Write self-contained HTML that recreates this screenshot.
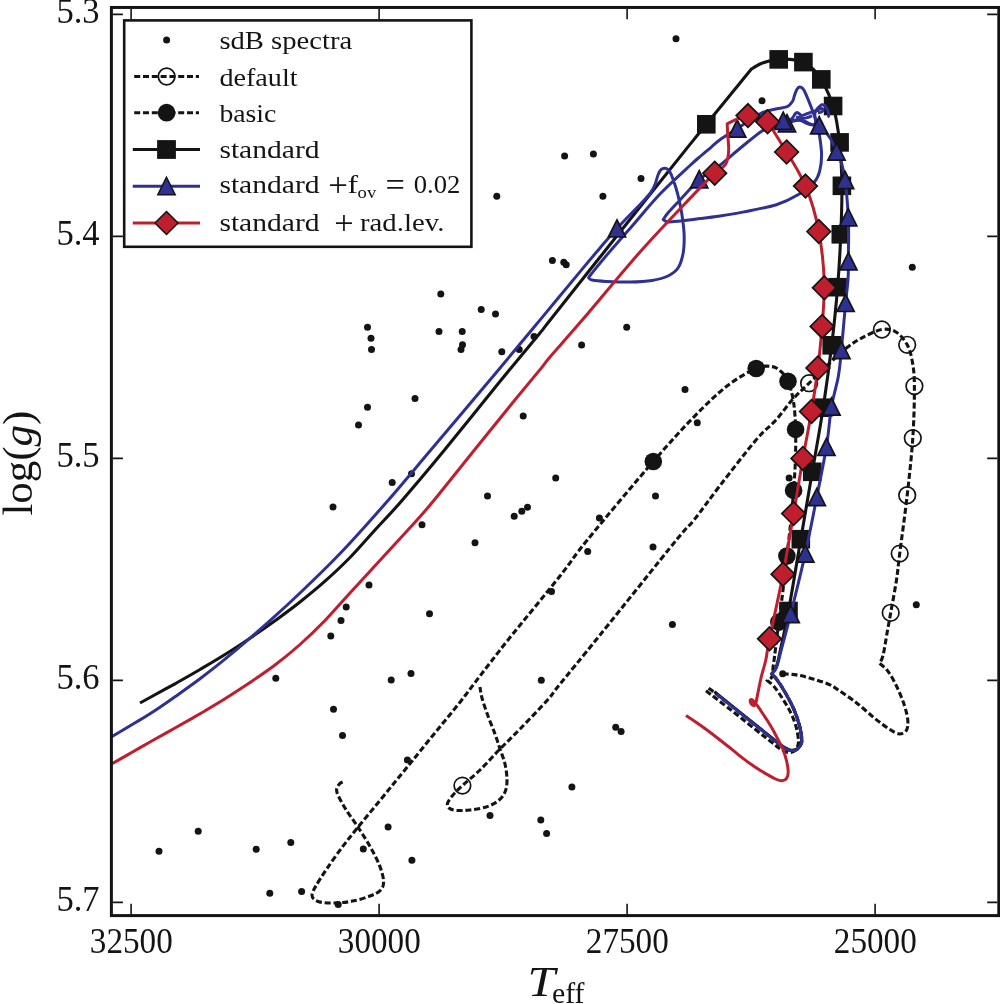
<!DOCTYPE html>
<html lang="en"><head><meta charset="utf-8"><title>sdB evolutionary tracks</title>
<style>html,body{margin:0;padding:0;background:#fff}body{width:1000px;height:1004px;overflow:hidden}svg{display:block}text{font-family:"Liberation Serif",serif;fill:#141414}</style></head><body>
<svg width="1000" height="1004" viewBox="0 0 1000 1004">
<rect width="1000" height="1004" fill="#fff"/>
<defs><clipPath id="ax"><rect x="112" y="7.5" width="887" height="908"/></clipPath></defs>
<g clip-path="url(#ax)">
<g fill="#141414">
<circle cx="676" cy="38.8" r="3.5"/>
<circle cx="564.6" cy="156.1" r="3.5"/>
<circle cx="593.4" cy="153.9" r="3.5"/>
<circle cx="641" cy="178.5" r="3.5"/>
<circle cx="602.9" cy="196.2" r="3.5"/>
<circle cx="496.8" cy="196.2" r="3.5"/>
<circle cx="762" cy="100.7" r="3.5"/>
<circle cx="912.3" cy="267.3" r="3.5"/>
<circle cx="552.4" cy="260.4" r="3.5"/>
<circle cx="563.8" cy="262.2" r="3.5"/>
<circle cx="566.2" cy="264.8" r="3.5"/>
<circle cx="440.8" cy="294" r="3.5"/>
<circle cx="481.2" cy="309.5" r="3.5"/>
<circle cx="495.5" cy="314" r="3.5"/>
<circle cx="367.5" cy="327.2" r="3.5"/>
<circle cx="371" cy="338.2" r="3.5"/>
<circle cx="371.5" cy="349.5" r="3.5"/>
<circle cx="439" cy="331.5" r="3.5"/>
<circle cx="462.2" cy="331.5" r="3.5"/>
<circle cx="462.5" cy="344.8" r="3.5"/>
<circle cx="461" cy="349.5" r="3.5"/>
<circle cx="501.8" cy="351.8" r="3.5"/>
<circle cx="519.2" cy="349.5" r="3.5"/>
<circle cx="534" cy="336.5" r="3.5"/>
<circle cx="415" cy="398.5" r="3.5"/>
<circle cx="367.5" cy="407.2" r="3.5"/>
<circle cx="358.5" cy="425" r="3.5"/>
<circle cx="523.2" cy="416" r="3.5"/>
<circle cx="411.5" cy="473.8" r="3.5"/>
<circle cx="392.2" cy="482.5" r="3.5"/>
<circle cx="487.5" cy="495.9" r="3.5"/>
<circle cx="626.7" cy="327.3" r="3.5"/>
<circle cx="581.6" cy="344.9" r="3.5"/>
<circle cx="685" cy="389.5" r="3.5"/>
<circle cx="697.3" cy="422.7" r="3.5"/>
<circle cx="555.7" cy="478.1" r="3.5"/>
<circle cx="655.5" cy="496" r="3.5"/>
<circle cx="599.4" cy="518" r="3.5"/>
<circle cx="333" cy="507" r="3.5"/>
<circle cx="346.2" cy="607" r="3.5"/>
<circle cx="341" cy="620.5" r="3.5"/>
<circle cx="330.8" cy="636" r="3.5"/>
<circle cx="275.8" cy="678.2" r="3.5"/>
<circle cx="333.5" cy="709.2" r="3.5"/>
<circle cx="342.5" cy="735.6" r="3.5"/>
<circle cx="422" cy="524.8" r="3.5"/>
<circle cx="369" cy="585" r="3.5"/>
<circle cx="429.5" cy="613.8" r="3.5"/>
<circle cx="391.2" cy="680" r="3.5"/>
<circle cx="411" cy="673.4" r="3.5"/>
<circle cx="475" cy="542.8" r="3.5"/>
<circle cx="514.2" cy="516.2" r="3.5"/>
<circle cx="521.8" cy="511.2" r="3.5"/>
<circle cx="527.5" cy="507.2" r="3.5"/>
<circle cx="587.7" cy="551.4" r="3.5"/>
<circle cx="551.5" cy="591.5" r="3.5"/>
<circle cx="541.3" cy="680.2" r="3.5"/>
<circle cx="653" cy="547" r="3.5"/>
<circle cx="672.4" cy="624.6" r="3.5"/>
<circle cx="916.3" cy="604.8" r="3.5"/>
<circle cx="159" cy="851.2" r="3.5"/>
<circle cx="198.2" cy="831.2" r="3.5"/>
<circle cx="256.2" cy="849.2" r="3.5"/>
<circle cx="290.8" cy="842.4" r="3.5"/>
<circle cx="269.8" cy="893.2" r="3.5"/>
<circle cx="301.6" cy="891.4" r="3.5"/>
<circle cx="338.2" cy="904.5" r="3.5"/>
<circle cx="363.3" cy="849.1" r="3.5"/>
<circle cx="388.1" cy="826.9" r="3.5"/>
<circle cx="411.9" cy="860.3" r="3.5"/>
<circle cx="407.4" cy="759.9" r="3.5"/>
<circle cx="571.9" cy="786.9" r="3.5"/>
<circle cx="490" cy="815.6" r="3.5"/>
<circle cx="540.8" cy="820" r="3.5"/>
<circle cx="546.6" cy="833.4" r="3.5"/>
<circle cx="615.7" cy="727.2" r="3.5"/>
<circle cx="621.1" cy="731.5" r="3.5"/>
<circle cx="782.7" cy="673.7" r="3.5"/>
<circle cx="789.1" cy="477.9" r="3.5"/>
</g>
<g fill="none" stroke="#141414" stroke-width="3.1" stroke-dasharray="6 2.8">
<path d="M708.6 688.2C709.9 689.2 710.9 689.7 716.6 694.2C722.3 698.7 734.6 708.5 743 715.2C751.4 721.9 760.6 729.3 767 734.4C773.4 739.5 777.4 743.1 781.4 745.8C785.4 748.5 788.4 750 791 750.6C793.6 751.2 795.3 750.5 797 749.4C798.7 748.3 800.4 745.9 801.2 744C802 742.1 802.1 741.2 801.8 738C801.5 734.8 800.8 729.8 799.4 724.8C798 719.8 796 713.8 793.4 708C790.8 702.2 786.6 694.8 783.8 690C781 685.2 778.6 681.9 776.6 679.2C774.6 676.5 772.6 674.7 771.8 673.8"/>
<path d="M782.7 673.7C785.2 674 792.8 674.3 798 675.2C803.2 676.1 808.7 677.6 814 679.2C819.3 680.8 826 683 830 684.8C834 686.6 833.7 686.9 838 689.8C842.3 692.7 850 697.8 856 702.4C862 707 868.6 713.4 874 717.7C879.4 722.1 884.2 725.8 888.4 728.5C892.6 731.2 896.2 733.6 899.2 733.9C902.2 734.2 905 732.5 906.4 730.3C907.8 728 908.1 724.4 907.8 720.4C907.5 716.4 906.3 711.4 904.6 706C902.9 700.6 900.1 693.7 897.4 688C894.7 682.3 891.4 675.9 888.4 671.8C885.4 667.7 880.9 664.6 879.4 663.2L879.4 663.2C880 661.9 881.6 661.1 883 655.6C884.4 650.1 886.2 637.5 887.5 630.4C888.8 623.3 889.2 621.2 890.7 612.8C892.2 604.4 895 589.9 896.5 580C898 570.1 897.9 567.7 899.7 553.6C901.5 539.5 905 514.5 907.2 495.2C909.4 475.9 911.6 456.2 912.8 438C914 419.8 914.5 398.8 914.4 386.1C914.3 373.4 913.6 368.9 912.4 362C911.2 355.1 909.9 349.8 907.2 344.8C904.5 339.8 900.2 334.6 896 332C891.8 329.4 887.5 328.6 881.9 329.5C876.3 330.4 868.3 334.5 862.4 337.6C856.5 340.7 851.9 343.7 846.4 348C840.9 352.3 835.8 357.3 829.6 363.2C823.4 369.1 815.2 377.2 809.1 383.2C803 389.2 798.3 393.1 792.8 399.2C787.3 405.3 782.1 413.2 776 420C769.9 426.8 765.3 429.1 756 440C746.7 450.9 730.3 472.3 720 485.6C709.7 498.9 701.3 510.9 694 520C686.7 529.1 692.1 520.8 676.4 540C660.7 559.2 619.4 611 600 635C580.6 659 568.8 673.2 560 684C551.2 694.8 554.2 692.5 547.5 700C540.8 707.5 527.9 720.8 520 729C512.1 737.2 506.7 742.2 500 749C493.3 755.8 486.3 763.9 480 770C473.7 776.1 466.9 781.4 462.4 785.6C457.9 789.8 455.5 792.1 453 795C450.5 797.9 448.3 800.8 447.6 803C446.9 805.2 447.6 806.8 449 808C450.4 809.2 452.5 810.1 456 810.4C459.5 810.7 465 810.6 470 810C475 809.4 481.3 808.5 486 807C490.7 805.5 494.8 803.5 498 801C501.2 798.5 503.5 795.5 505 792C506.5 788.5 507 784.7 507 780C507 775.3 506.2 769.2 505 764C503.8 758.8 501.7 754 500 749C498.3 744 497 739.5 495 734C493 728.5 490.2 722 488 716C485.8 710 483.3 702.8 482 698C480.7 693.2 480.3 688.8 480 687"/>
</g>
<g fill="none" stroke="#141414" stroke-width="1.7">
<circle cx="462.4" cy="785.6" r="8.3"/>
<circle cx="809.1" cy="383.2" r="8.3"/>
<circle cx="881.9" cy="329.5" r="8.3"/>
<circle cx="907.2" cy="344.8" r="8.3"/>
<circle cx="914.4" cy="386.1" r="8.3"/>
<circle cx="912.8" cy="438.1" r="8.3"/>
<circle cx="907.2" cy="495.2" r="8.3"/>
<circle cx="899.7" cy="553.6" r="8.3"/>
<circle cx="890.7" cy="612.8" r="8.3"/>
</g>
<g fill="none" stroke="#141414" stroke-width="3.1" stroke-dasharray="6 2.8">
<path d="M706 690.8C710.3 694.1 723.5 704.1 731.8 710.6C740.1 717.1 749.3 724.6 755.8 729.8C762.3 735 766.8 738.5 770.8 741.6C774.8 744.7 777.3 746.8 779.6 748.4C781.9 750 783.1 750.7 784.6 751.4C786.1 752.1 787.3 752.6 788.8 752.6C790.3 752.6 792.1 752.3 793.4 751.6C794.7 750.9 795.8 750.1 796.6 748.4C797.5 746.7 798.6 745.1 798.5 741.6C798.4 738.1 797.5 732 796.2 727.2C794.9 722.4 793.1 717.6 790.8 712.8C788.5 708 785.2 702.8 782.4 698.4C779.6 694 776.5 689.4 774 686.4C771.5 683.4 768.5 681.6 767.4 680.6L767.4 680.6C768.1 680 770.8 679.2 771.8 676.8C772.8 674.4 772.7 669.5 773.2 666C773.7 662.5 773.7 663.3 774.6 656C775.5 648.7 777.5 632.6 778.8 622.1C780.1 611.6 781.2 604.3 782.6 593.3C784 582.3 785.5 568.2 786.9 556C788.3 543.8 789.9 530.9 791 520C792.1 509.1 792.9 500.4 793.6 490.4C794.3 480.4 795.1 470.2 795.4 460C795.7 449.8 795.9 439.1 795.6 429.4C795.3 419.7 794.8 409.6 793.5 401.6C792.2 393.6 790.1 386.3 788 381.3C785.9 376.3 783.7 373.9 781 371.5C778.3 369.1 776.1 367.1 772 366.6C767.9 366.1 763.7 365.3 756.2 368.5C748.7 371.7 737.4 377.9 727 386C716.6 394.1 706.3 404.2 694 416.8C681.7 429.4 671.1 441 653.3 461.5C635.5 482 602.8 520.9 587.3 540C571.8 559.1 573.2 559.3 560 576C546.8 592.7 521.3 623.3 508 640C494.7 656.7 488 665.6 480 676C472 686.4 466.7 693.8 460 702.2C453.3 710.7 446.7 718.5 440 726.7C433.3 734.9 425.1 745 420 751.3C414.9 757.6 413.5 759.3 409.2 764.6C404.9 769.9 399.5 776.5 394 783.2C388.5 789.9 382.4 797.5 376.4 804.8C370.4 812.1 363.6 820.3 358 827.2C352.4 834.1 348 839.5 342.8 846.4C337.6 853.3 331.3 862.1 326.8 868.8C322.3 875.5 318.1 882.1 315.6 886.4C313.2 890.7 312.4 892.3 312.1 894.4C311.8 896.5 312.4 897.9 314 899.2C315.6 900.5 318 901.8 322 902.4C326 903 332.7 903.2 338 902.9C343.3 902.6 348.7 901.9 354 900.8C359.3 899.6 365.6 897.7 370 896C374.4 894.3 378.1 892.8 380.4 890.4C382.7 888 383.7 885.7 383.6 881.6C383.5 877.5 381.9 871.5 379.6 865.6C377.3 859.7 373.6 852.8 370 846.4C366.4 840 362 833.3 358 827.2C354 821.1 349.3 814.9 346 809.6C342.7 804.3 339.6 798.7 338 795.2C336.4 791.7 336.4 790.7 336.7 788.8C337 786.9 338.5 784.9 339.6 783.7C340.8 782.5 342.9 782 343.6 781.6"/>
</g>
<g fill="#141414">
<circle cx="778.8" cy="622.1" r="8.8"/>
<circle cx="786.9" cy="556" r="8.8"/>
<circle cx="793.6" cy="490.4" r="8.8"/>
<circle cx="795.6" cy="429.4" r="8.8"/>
<circle cx="788" cy="381.3" r="8.8"/>
<circle cx="756.2" cy="368.5" r="8.8"/>
<circle cx="653.3" cy="461.5" r="8.8"/>
</g>
<g fill="none" stroke="#141414" stroke-width="3.1" stroke-linejoin="round">
<path d="M714.4 691.6C719 695.3 733.4 707.1 742 714C750.6 720.9 759.6 728.1 766 733.2C772.4 738.3 777.2 742.3 780.6 744.8C784 747.3 784.5 747.5 786.2 748.4C787.9 749.3 789.2 750.1 791 750.2C792.8 750.3 795.3 750.2 797 749.2C798.7 748.2 800.2 745.9 801 744C801.8 742.1 801.9 741.2 801.6 738C801.3 734.8 800.6 729.8 799.2 724.8C797.8 719.8 795.8 713.8 793.2 708C790.6 702.2 786.4 694.8 783.6 690C780.8 685.2 778.4 681.9 776.4 679.2C774.4 676.5 772.4 674.7 771.6 673.8L771.6 673.8C772.4 672.7 774.7 671.2 776.2 667.2C777.7 663.2 778.4 659.4 780.4 650C782.4 640.6 785.1 629.5 788.5 611C791.9 592.5 796.8 562.4 800.8 539.2C804.8 516 808.6 493.7 812.3 471.8C816 449.9 820 428.8 823.2 407.7C826.4 386.6 829.3 365.4 831.7 345.3C834.1 325.2 836.1 305.7 837.6 287.2C839.1 268.7 840.1 251.2 840.8 234.3C841.5 217.4 842.1 201.1 841.9 185.8C841.7 170.5 841.1 155.7 839.6 142.4C838.1 129.1 836.2 116.5 833.1 106C830 95.5 824.8 85.7 821.3 79.4C817.8 73.1 815 70.9 812 68C809 65.1 807.1 63.5 803.4 62.1C799.7 60.7 794.1 59.9 790 59.4C785.9 58.9 782.2 59.1 778.7 59.4C775.2 59.6 772.3 60.1 769.2 60.9C766.1 61.7 763 62.6 760 64C757 65.4 752.7 68.3 751.2 69.2L751.2 69.2C743.7 78.4 716.5 111.8 706.3 124.3C696.1 136.8 704.4 126.5 690 144.4C675.6 162.3 643.2 202.9 620 232C596.8 261.1 564.3 302.2 551 319C537.7 335.8 548.7 322.3 540 333C531.3 343.7 514.6 363.5 498.7 383C482.8 402.5 460.8 430.2 444.7 449.8C428.6 469.4 413.6 487.1 402 500.5C390.4 513.9 383.7 520.5 375 530C366.3 539.5 358.3 549 350 557.5C341.7 566 333.3 573.8 325 581.2C316.7 588.7 308.3 595.4 300 602C291.7 608.6 283.3 614.7 275 620.8C266.7 626.8 258.3 632.6 250 638.2C241.7 643.9 233.3 649.3 225 654.5C216.7 659.7 208.3 664.6 200 669.5C191.7 674.4 183.3 679.1 175 683.8C166.7 688.4 155.8 694.3 150 697.5C144.2 700.7 141.7 702.1 140 703"/>
</g>
<g fill="#141414">
<rect x="779.2" y="601.7" width="18.6" height="18.6"/>
<rect x="791.5" y="529.9" width="18.6" height="18.6"/>
<rect x="803" y="462.5" width="18.6" height="18.6"/>
<rect x="813.9" y="398.4" width="18.6" height="18.6"/>
<rect x="822.4" y="336" width="18.6" height="18.6"/>
<rect x="828.3" y="277.9" width="18.6" height="18.6"/>
<rect x="831.5" y="225" width="18.6" height="18.6"/>
<rect x="832.6" y="176.5" width="18.6" height="18.6"/>
<rect x="830.3" y="133.1" width="18.6" height="18.6"/>
<rect x="823.8" y="96.7" width="18.6" height="18.6"/>
<rect x="812" y="70.1" width="18.6" height="18.6"/>
<rect x="794.1" y="52.8" width="18.6" height="18.6"/>
<rect x="769.4" y="50.1" width="18.6" height="18.6"/>
<rect x="697" y="115" width="18.6" height="18.6"/>
</g>
<g fill="none" stroke="#2e3192" stroke-width="3" stroke-linejoin="round">
<path d="M716.6 694.2C721 697.7 734.6 708.5 743 715.2C751.4 721.9 760.6 729.3 767 734.4C773.4 739.5 778.1 743.4 781.4 745.8C784.7 748.2 785 748.2 786.6 749C788.2 749.8 789.3 750.5 791 750.6C792.7 750.7 795.3 750.5 797 749.4C798.7 748.3 800.4 745.9 801.2 744C802 742.1 802.1 741.2 801.8 738C801.5 734.8 800.8 729.8 799.4 724.8C798 719.8 796 713.8 793.4 708C790.8 702.2 786.6 694.8 783.8 690C781 685.2 778.6 681.9 776.6 679.2C774.6 676.5 772.6 674.7 771.8 673.8L771.8 673.8C772.6 672.7 775 671.2 776.6 667.2C778.2 663.2 778.9 658.9 781.2 650C783.6 641.1 786.7 630.1 790.7 614C794.7 597.9 800.9 573.1 805.3 553.6C809.6 534.1 813.3 514.8 816.8 497C820.3 479.2 823.9 462 826.4 446.9C828.9 431.8 829.5 418.4 831.5 406.6C833.5 394.8 836.8 385.4 838.4 376C840 366.6 840.2 362.2 841.4 350C842.6 337.8 844.5 314.6 845.6 302.9C846.7 291.2 847.5 286.9 848 280C848.5 273.1 848.4 271.6 848.4 261.2C848.4 250.8 848.8 230.8 848.2 217.3C847.7 203.8 846.2 189.1 845.1 180C844 170.9 842.8 167.8 841.4 163C840 158.2 838.4 155.7 836.5 151.5C834.6 147.3 832.9 142.4 830 138C827.1 133.6 822.2 127.4 819.2 125.2C816.2 123 814.2 125.2 812 124.8C809.8 124.4 808 123.8 806 123C804 122.2 802.5 120.7 800 120.3C797.5 119.9 793.5 120.2 791 120.5C788.5 120.8 787.4 121.3 785 122C782.6 122.7 780.2 123.1 776.4 124.6C772.6 126.1 768 127 762 130.9C756 134.8 747.6 142.2 740.4 148C733.2 153.8 725.7 160.8 718.8 166C711.9 171.2 703.7 175.8 699.2 179.3C694.7 182.8 695.2 183.6 692 187C688.8 190.4 684.1 195.6 680 200C675.9 204.4 670.3 210.2 667.5 213.5C664.7 216.8 663.9 218.6 663.2 219.6L663.2 219.6C664 220 665.2 221.8 668 222C670.8 222.2 674.7 221.6 680 221C685.3 220.4 693.3 219.4 700 218.6C706.7 217.8 712.7 217.1 720 216C727.3 214.9 734.6 213.8 744 211.9C753.4 210 767.4 207.5 776.4 204.7C785.4 201.8 791.7 198.6 798 194.8C804.3 191.1 810.6 186.1 814.2 182.2C817.8 178.3 818.4 175.9 819.6 171.4C820.8 166.9 821.6 161.3 821.6 155.2C821.6 149.1 820.3 140.7 819.4 135C818.5 129.3 817.2 125.1 816 121C814.8 116.9 814.2 114.9 812.4 110.2C810.6 105.5 806.8 96.2 805.2 92.6C803.6 89 803.5 89.3 802.6 88.4C801.7 87.5 800.5 86.9 799.6 87C798.7 87.1 797.8 87.9 797 89.2C796.2 90.5 795.3 93 794.6 95C793.9 97 793.8 99.3 792.6 101.2C791.4 103.1 790.2 105.2 787.2 106.6C784.2 107.9 778.8 108.2 774.6 109.3C770.4 110.3 768.2 109.7 762 112.9C755.8 116.1 744.2 124.1 737.2 128.6C730.2 133.1 724.3 136.8 720 139.8C715.7 142.8 714.9 144 711.6 146.8C708.3 149.6 703.6 153.5 700 156.6C696.4 159.7 696.7 159.3 690 165.5C683.3 171.7 669.5 184.1 660 194C650.5 203.9 642 214.7 633 225C624 235.3 612.8 248 606 256C599.2 264 594.9 269.4 592 273C589.1 276.6 589.2 277 588.6 277.8L588.6 277.8C589.2 278.2 589.1 279.4 592 280C594.9 280.6 599.7 281.1 606 281.4C612.3 281.7 622.3 282.2 630 282C637.7 281.8 645.7 281.4 652 280.4C658.3 279.4 663.7 278.1 668 276C672.3 273.9 675.5 271.7 678 268C680.5 264.3 682 259 683 254C684 249 684.2 243.3 684.2 238C684.2 232.7 683.7 227.7 683 222C682.3 216.3 681.2 209.7 680 204C678.8 198.3 677.5 193 676 188C674.5 183 672.3 177.1 671 174C669.7 170.9 669 170.6 668 169.6C667 168.6 666.2 168.2 665 168.2C663.8 168.2 662.2 168.5 661 169.6C659.8 170.7 659 172.6 658 175C657 177.4 656.4 181.1 655.2 184C654 186.9 652.9 189.4 650.8 192.4C648.7 195.4 648 196 642.4 202C636.8 208 624.1 220.7 617 228.4C609.9 236.1 605.7 241.3 600 248C594.3 254.7 592.3 257 582.6 268.6C572.9 280.2 556.3 300.4 542 317.6C527.7 334.8 515.2 349.9 496.7 372C478.2 394.1 448.9 428.6 430.8 450C412.7 471.4 401.5 485 388 500.5C374.5 516 360.5 531.6 350 543C339.5 554.4 333.3 560.4 325 568.8C316.7 577.1 308.3 585.1 300 593C291.7 600.9 283.3 608.7 275 616.2C266.7 623.8 258.3 631.1 250 638.2C241.7 645.4 233.3 652.5 225 659.2C216.7 666 208.3 672.5 200 678.8C191.7 685 183.3 690.9 175 696.8C166.7 702.6 160.5 707.1 150 713.8C139.5 720.4 120.3 731.6 112 736.6C103.7 741.6 102 742.4 100 743.5"/>
<path d="M788 121.6C788.8 121 791.3 119.3 792.5 118C793.7 116.7 794.2 114.9 795 114C795.8 113.1 796.2 112.6 797 112.6C797.8 112.6 798.8 113.5 799.5 114C800.2 114.5 800.6 115.5 801.5 115.6C802.4 115.7 803.6 115.1 805 114.6C806.4 114.1 808.3 113.2 810 112.6C811.7 112 813.8 111.7 815 111C816.2 110.3 816.7 109.4 817.5 108.6C818.3 107.8 819.2 106.6 820 106C820.8 105.4 821.2 104.9 822 104.8C822.8 104.7 823.7 104.8 824.5 105.5C825.3 106.2 826.3 107.8 827 109C827.7 110.2 828.2 111.8 828.5 113C828.8 114.2 828.8 115.4 828.6 116C828.4 116.6 827.6 116.7 827.4 116.8"/>
<path d="M790 122C791 121.7 794.3 120.7 796 120.4C797.7 120.1 798.5 119.8 800 120C801.5 120.2 803.3 120.8 805 121.5C806.7 122.2 808.6 123.4 810 124C811.4 124.6 812.6 125.2 813.5 125C814.4 124.8 815.1 124 815.4 123C815.7 122 815.5 120.3 815.4 119C815.3 117.7 814.8 116.2 814.8 115C814.8 113.8 815.1 112.3 815.6 111.5C816.1 110.7 817.1 110.5 818 110C818.9 109.5 820.2 108.7 821 108.6C821.8 108.5 822.8 108.9 823 109.4C823.2 109.9 822.8 111 822 111.6C821.2 112.2 818.7 112.8 818 113"/>
<path d="M796 117C796.5 117.1 797.8 117.2 799 117.4C800.2 117.6 801.5 118.4 803 118.4C804.5 118.4 806.5 117.9 808 117.4C809.5 116.9 811.3 115.9 812 115.6"/>
</g>
<g fill="#2e3192" stroke="#141414" stroke-width="1.7" stroke-linejoin="miter">
<path d="M790.7 605.4L799.3 622.6L782.1 622.6Z"/>
<path d="M805.3 545L813.9 562.2L796.7 562.2Z"/>
<path d="M816.8 488.4L825.4 505.6L808.2 505.6Z"/>
<path d="M826.4 438.3L835 455.5L817.8 455.5Z"/>
<path d="M831.5 398L840.1 415.2L822.9 415.2Z"/>
<path d="M841.4 341.4L850 358.6L832.8 358.6Z"/>
<path d="M845.6 294.3L854.2 311.5L837 311.5Z"/>
<path d="M848.4 252.6L857 269.8L839.8 269.8Z"/>
<path d="M848.2 208.7L856.8 225.9L839.6 225.9Z"/>
<path d="M845.1 171.4L853.7 188.6L836.5 188.6Z"/>
<path d="M836.5 142.9L845.1 160.1L827.9 160.1Z"/>
<path d="M819.2 116.6L827.8 133.8L810.6 133.8Z"/>
<path d="M787 114.6L795.6 131.8L778.4 131.8Z"/>
<path d="M783.2 112.1L791.8 129.3L774.6 129.3Z"/>
<path d="M699.2 170.7L707.8 187.9L690.6 187.9Z"/>
<path d="M737.2 120L745.8 137.2L728.6 137.2Z"/>
<path d="M617 219.8L625.6 237L608.4 237Z"/>
</g>
<g fill="none" stroke="#be1e2d" stroke-width="3" stroke-linejoin="round">
<path d="M686 715.5C687.5 716.5 691.5 719 695 721.4C698.5 723.8 703 727 707 730C711 733 715 736.1 719 739.2C723 742.3 727 745.4 731 748.6C735 751.8 739 755.3 743 758.4C747 761.5 751 764.3 755 767C759 769.7 763.6 772.4 767 774.4C770.4 776.4 773.1 777.9 775.6 779C778.1 780.1 780.2 780.9 782 780.8C783.8 780.7 785.6 779.9 786.6 778.4C787.6 776.9 788.2 774.9 788.2 772C788.2 769.1 787.5 764.9 786.6 761C785.7 757.1 783.9 751.7 782.6 748.4C781.3 745.1 780.6 744.5 779 741.4C777.4 738.3 775 733.6 773 730C771 726.4 769 723.2 767 720C765 716.8 762.6 713.4 761 711C759.4 708.6 758.5 707 757.4 705.6C756.3 704.2 754.9 703.3 754.4 702.8L756 702.8C756.8 698.7 759.4 685.1 761 678C762.6 670.9 764.4 666.5 765.8 660C767.2 653.5 766.6 653.1 769.5 638.8C772.4 624.5 779 595.1 783 574.2C787 553.3 790.3 532.9 793.6 513.6C796.9 494.3 799.9 475.4 802.9 458.4C805.9 441.4 809 426.6 811.5 411.5C814 396.4 816.1 382.2 817.9 368C819.7 353.8 821 339.8 822.1 326.4C823.2 313 824.2 299.2 824.3 287.8C824.4 276.4 823.5 267.4 822.6 258C821.7 248.6 820.4 240 818.8 231.5C817.2 223 815.2 214.6 813 207C810.8 199.4 808.2 192.5 805.5 186.1C802.8 179.7 799.6 174.1 796.5 168.4C793.4 162.7 791.4 159.8 786.6 152C781.8 144.2 770.8 126.8 767.6 121.8L767.6 121.8C764.3 120.8 752.9 116.1 748 115.6C743.1 115.1 741.5 117.2 738 118.6C734.5 120 729 122.9 727.2 123.8L727.2 123.8C727.3 125.7 727.5 131.4 727.8 135.4C728 139.4 728.7 144.4 728.7 148C728.7 151.6 728.5 154.3 728 157C727.5 159.7 726.8 162.5 725.6 164.4C724.4 166.3 722.8 166.9 721 168.4C719.2 169.9 719.9 168.2 714.7 173.2C709.5 178.2 702.5 185.3 690 198.4C677.5 211.5 658 231.6 640 252C622 272.4 596.8 303.1 581.8 320.6C566.8 338.1 557 348.8 550 357C543 365.2 546.7 361.4 540 369.6C533.3 377.8 520.9 392.6 510 406C499.1 419.4 487.1 434.2 474.4 450C461.7 465.8 444.1 488 433.8 500.5C423.4 513 426.5 509.6 412.5 525C398.5 540.4 364.6 577.1 350 593C335.4 608.9 333.3 611.9 325 620.5C316.7 629.1 308.3 637.1 300 644.5C291.7 651.9 283.3 658.7 275 665C266.7 671.3 258.3 676.9 250 682.5C241.7 688.1 233.3 693.5 225 698.8C216.7 704 208.3 708.9 200 713.8C191.7 718.6 183.3 723.3 175 728C166.7 732.7 157.1 738 150 742C142.9 746 138.8 748.4 132.5 752C126.2 755.6 117.4 760.6 112 763.8C106.6 766.9 102 769.5 100 770.6"/>
</g>
<ellipse cx="752.6" cy="702.6" rx="3.3" ry="5" transform="rotate(-35 752.6 702.6)" fill="#be1e2d"/>
<g fill="#be1e2d" stroke="#141414" stroke-width="1.7" stroke-linejoin="miter">
<path d="M769.5 627L781.3 638.8L769.5 650.6L757.7 638.8Z"/>
<path d="M783 562.4L794.8 574.2L783 586L771.2 574.2Z"/>
<path d="M793.6 501.8L805.4 513.6L793.6 525.4L781.8 513.6Z"/>
<path d="M802.9 446.6L814.7 458.4L802.9 470.2L791.1 458.4Z"/>
<path d="M811.5 399.7L823.3 411.5L811.5 423.3L799.7 411.5Z"/>
<path d="M817.9 356.2L829.7 368L817.9 379.8L806.1 368Z"/>
<path d="M822.1 314.6L833.9 326.4L822.1 338.2L810.3 326.4Z"/>
<path d="M824.3 276L836.1 287.8L824.3 299.6L812.5 287.8Z"/>
<path d="M818.8 219.7L830.6 231.5L818.8 243.3L807 231.5Z"/>
<path d="M805.5 174.3L817.3 186.1L805.5 197.9L793.7 186.1Z"/>
<path d="M786.6 140.2L798.4 152L786.6 163.8L774.8 152Z"/>
<path d="M767.6 110L779.4 121.8L767.6 133.6L755.8 121.8Z"/>
<path d="M748 103.8L759.8 115.6L748 127.4L736.2 115.6Z"/>
<path d="M714.7 161.4L726.5 173.2L714.7 185L702.9 173.2Z"/>
</g>
</g>
<g fill="none" stroke="#141414">
<rect x="111.4" y="7.45" width="887.4" height="908.15" stroke-width="3"/>
<path d="M131.1 914.2v-10.4M131.1 8.9v10.3M379.1 914.2v-10.4M379.1 8.9v10.3M627.1 914.2v-10.4M627.1 8.9v10.3M875.1 914.2v-10.4M875.1 8.9v10.3M112.8 14.4h10.1M997.4 14.4h-10.2M112.8 236.4h10.1M997.4 236.4h-10.2M112.8 458.4h10.1M997.4 458.4h-10.2M112.8 680.4h10.1M997.4 680.4h-10.2M112.8 902.4h10.1M997.4 902.4h-10.2" stroke-width="1.6"/>
</g>
<g font-size="35.8">
<text x="99.6" y="23.3" text-anchor="end" textLength="43.2" lengthAdjust="spacingAndGlyphs">5.3</text>
<text x="99.6" y="245.3" text-anchor="end" textLength="43.2" lengthAdjust="spacingAndGlyphs">5.4</text>
<text x="99.6" y="467.3" text-anchor="end" textLength="43.2" lengthAdjust="spacingAndGlyphs">5.5</text>
<text x="99.6" y="689.3" text-anchor="end" textLength="43.2" lengthAdjust="spacingAndGlyphs">5.6</text>
<text x="99.6" y="911.3" text-anchor="end" textLength="43.2" lengthAdjust="spacingAndGlyphs">5.7</text>
<text x="131.3" y="952.5" text-anchor="middle" textLength="83" lengthAdjust="spacingAndGlyphs">32500</text>
<text x="379.3" y="952.5" text-anchor="middle" textLength="83" lengthAdjust="spacingAndGlyphs">30000</text>
<text x="627.3" y="952.5" text-anchor="middle" textLength="83" lengthAdjust="spacingAndGlyphs">27500</text>
<text x="875.3" y="952.5" text-anchor="middle" textLength="83" lengthAdjust="spacingAndGlyphs">25000</text>
</g>
<text transform="translate(32 515.6) rotate(-90)" font-size="41.5" textLength="105" lengthAdjust="spacingAndGlyphs">log(<tspan font-style="italic">g</tspan>)</text>
<text x="527.6" y="996.4" font-size="42" font-style="italic" textLength="27.6" lengthAdjust="spacingAndGlyphs">T</text>
<text x="552" y="1003" font-size="29.5" textLength="32.5" lengthAdjust="spacingAndGlyphs">eff</text>
<g>
<rect x="124.2" y="20.4" width="347.2" height="226.4" fill="#fff" stroke="#141414" stroke-width="2.6"/>
<circle cx="166.6" cy="40" r="3.5" fill="#141414"/>
<path d="M134.2 76.5H199" fill="none" stroke="#141414" stroke-width="3" stroke-dasharray="6 2.8"/>
<circle cx="166.6" cy="76.5" r="8.3" fill="none" stroke="#141414" stroke-width="1.8"/>
<path d="M134.2 112.7H199" fill="none" stroke="#141414" stroke-width="3" stroke-dasharray="6 2.8"/>
<circle cx="166.6" cy="112.7" r="8.9" fill="#141414"/>
<path d="M132.8 149.5H200" fill="none" stroke="#141414" stroke-width="3.1"/>
<rect x="157.1" y="140.1" width="18.8" height="18.8" fill="#141414"/>
<path d="M132.8 186.3H200" fill="none" stroke="#2e3192" stroke-width="3"/>
<path d="M166.5 177.3L175.2 194.7L157.8 194.7Z" fill="#2e3192" stroke="#141414" stroke-width="1.5"/>
<path d="M132.8 223H200" fill="none" stroke="#be1e2d" stroke-width="3"/>
<path d="M166.5 211.5L178 223L166.5 234.5L155 223Z" fill="#be1e2d" stroke="#141414" stroke-width="1.5"/>
<g font-size="25.6">
<text x="219.4" y="49.3" textLength="132.8" lengthAdjust="spacingAndGlyphs">sdB spectra</text>
<text x="219.4" y="85.6" textLength="78.2" lengthAdjust="spacingAndGlyphs">default</text>
<text x="219.4" y="121.9" textLength="57" lengthAdjust="spacingAndGlyphs">basic</text>
<text x="219.4" y="158.2" textLength="100.2" lengthAdjust="spacingAndGlyphs">standard</text>
<text x="219.4" y="193.4" textLength="100.2" lengthAdjust="spacingAndGlyphs">standard</text>
<text x="328.2" y="196.2" font-size="33" textLength="19.6" lengthAdjust="spacingAndGlyphs">+</text>
<text x="347.4" y="193.4" textLength="10.6" lengthAdjust="spacingAndGlyphs">f</text>
<text x="357.6" y="197.6" font-size="17.6" textLength="18.6" lengthAdjust="spacingAndGlyphs">ov</text>
<text x="385.6" y="196.2" font-size="33" textLength="19.4" lengthAdjust="spacingAndGlyphs">=</text>
<text x="413.8" y="193.4" textLength="46.6" lengthAdjust="spacingAndGlyphs">0.02</text>
<text x="219.4" y="230.8" textLength="100.2" lengthAdjust="spacingAndGlyphs">standard</text>
<text x="334.2" y="234.4" font-size="33" textLength="19.4" lengthAdjust="spacingAndGlyphs">+</text>
<text x="360" y="230.8" textLength="84.4" lengthAdjust="spacingAndGlyphs">rad.lev.</text>
</g></g>
</svg></body></html>
